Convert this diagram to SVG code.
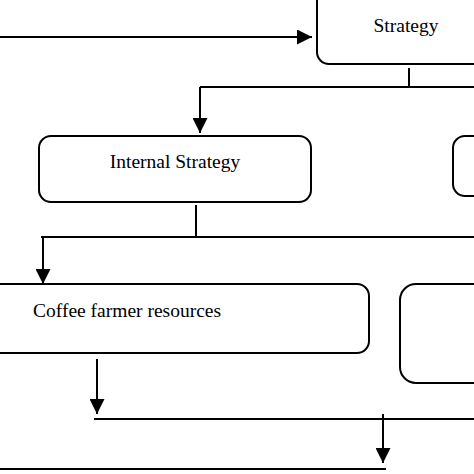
<svg xmlns="http://www.w3.org/2000/svg" width="474" height="474" viewBox="0 0 474 474">
<defs>
<style>
.box{fill:#fff;stroke:#000;stroke-width:2}
.ln{fill:none;stroke:#000;stroke-width:2}
.lbl{font-family:"Liberation Serif","Times New Roman",serif;font-size:19.5px;fill:#000}
</style>
<marker id="ah" viewBox="0 0 10 10" refX="10" refY="5" markerWidth="7" markerHeight="7" markerUnits="userSpaceOnUse" orient="auto">
<path d="M0,0 L10,5 L0,10 Z" fill="#000"/>
</marker>
<marker id="ahb" viewBox="0 0 10 10" refX="10" refY="5" markerWidth="15" markerHeight="15" markerUnits="userSpaceOnUse" orient="auto">
<path d="M0,0 L10,5 L0,10 Z" fill="#000"/>
</marker>
</defs>
<rect width="474" height="474" fill="#fff"/>
<g id="connectors">
<path class="ln" d="M0,37 H312" marker-end="url(#ahb)"/>
<path class="ln" d="M409,68 V87 M200,87 H474"/>
<path class="ln" d="M200,87 V133" marker-end="url(#ahb)"/>
<path class="ln" d="M196,205 V237 M41,237 H474"/>
<path class="ln" d="M43,237 V284" marker-end="url(#ahb)"/>
<path class="ln" d="M97,359 V414" marker-end="url(#ahb)"/>
<path class="ln" d="M94,419 H474"/>
<path class="ln" d="M383,414 V463" marker-end="url(#ahb)"/>
<path class="ln" d="M0,469 H386"/>
</g>
<g id="strategy">
<rect class="box" x="317" y="-12" width="180" height="76" rx="12"/>
<text class="lbl" x="406" y="32" text-anchor="middle">Strategy</text>
</g>
<g id="internal-strategy">
<rect class="box" x="39" y="136" width="272" height="66" rx="12"/>
<text class="lbl" x="175" y="168" text-anchor="middle">Internal Strategy</text>
</g>
<g id="external-strategy">
<rect class="box" x="453" y="136" width="60" height="60" rx="12"/>
</g>
<g id="coffee-farmer-resources">
<rect class="box" x="-20" y="284" width="389" height="69" rx="12"/>
<text class="lbl" x="33" y="317">Coffee farmer resources</text>
</g>
<g id="right-resources">
<rect class="box" x="400" y="284" width="100" height="99" rx="16"/>
</g>
</svg>
